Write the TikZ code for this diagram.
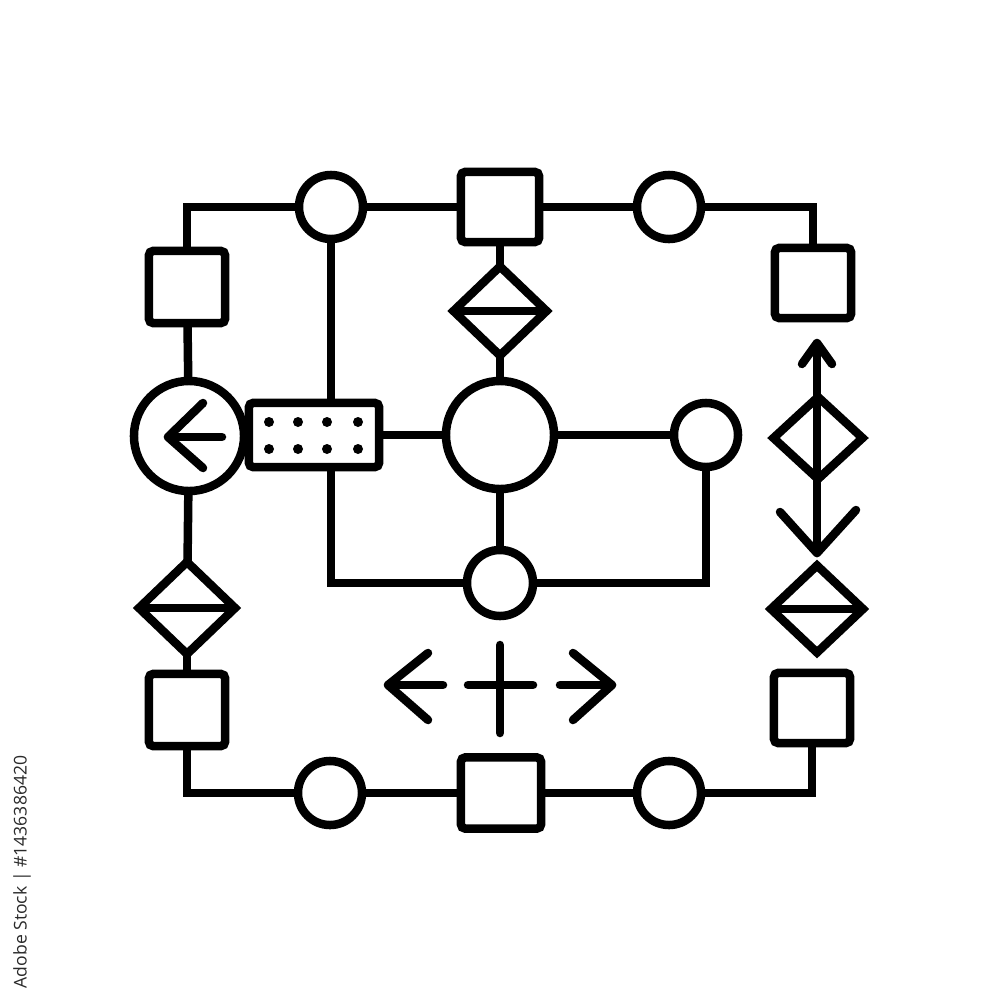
\documentclass[tikz,border=0pt]{standalone}
\usepackage{fontspec}
\usepackage{xcolor}
\usepackage{tikz}
\usetikzlibrary{shapes.geometric,backgrounds}
\newfontfamily\stampfont{Open Sans}
\definecolor{stampgray}{HTML}{2A2A2A}

\tikzset{
	box/.style={draw, line width=0.85mm, fill=white, minimum width=7.6mm, minimum height=7mm, inner sep=0, outer sep=0, rounded corners=0.4mm},
	node dot/.style={draw, circle, line width=0.85mm, fill=white, minimum size=6.4mm, inner sep=0, outer sep=0},
	gate/.style={draw, diamond, line width=0.85mm, fill=white, aspect=1, inner sep=0, outer sep=0, minimum width=9.2mm, minimum height=9mm},
	wire/.style={line width=0.85mm},
	glyph/.style={line width=0.85mm, line cap=round, line join=round}
}

\begin{document}
\begin{tikzpicture}[x=0.01cm, y=-0.01cm]
	% top row
	\node[node dot] (tc1) at (331,207) {};
	\node[box, minimum width=7.8mm] (tsq) at (500,207) {};
	\node[node dot] (tc2) at (669,207) {};
	\node[box] (rtsq) at (813,283) {};
	\node[box, minimum height=7.2mm] (ltsq) at (187,287) {};
	\node[gate, minimum width=9.3mm, minimum height=8.9mm] (tgate) at (500,311) {};
	\draw[wire] (tgate.west) -- (tgate.east);
	% middle
	\node[draw, circle, line width=0.85mm, fill=white, minimum size=11mm, inner sep=0, outer sep=0] (lc) at (189,436) {};
	\node[box, minimum width=13mm, minimum height=6.4mm] (panel) at (314,435) {};
	\node[draw, circle, line width=0.85mm, fill=white, minimum size=10.8mm, inner sep=0, outer sep=0] (hub) at (500,435) {};
	\node[node dot] (rc) at (706,435) {};
	\node[node dot, minimum size=6.6mm] (bmc) at (500,583) {};
	\foreach \x in {269,298,327,358}
		\foreach \y in {422,449}
			\fill (\x,\y) circle (0.5mm);
	\draw[glyph] (203,403) -- (168,437) -- (203,468);
	\draw[glyph] (168,437) -- (222,437);
	% left column
	\node[gate, minimum width=9.6mm, minimum height=9.2mm] (lgate) at (187,608) {};
	\draw[wire] (lgate.west) -- (lgate.east);
	\node[box, minimum height=7.2mm] (lbsq) at (187,710) {};
	% right column
	\node[gate, minimum width=8.9mm, minimum height=8.2mm] (ugate) at (818,438) {};
	\node[gate, minimum width=9.2mm, minimum height=8.7mm] (dgate) at (817,609) {};
	\draw[wire] (dgate.west) -- (dgate.east);
	\node[box] (rbsq) at (812,708) {};
	\coordinate (uptip) at (817,343);
	\coordinate (vtip) at (817,553);
	\draw[glyph] (uptip) -- (vtip);
	\draw[glyph] (802,364) -- (uptip) -- (832,364);
	\draw[glyph] (780,512) -- (vtip) -- (856,510);
	% bottom row
	\node[node dot] (bc1) at (330,793) {};
	\node[box, minimum width=8mm, minimum height=7.1mm] (bsq) at (501,793) {};
	\node[node dot] (bc2) at (669,793) {};
	% arrows and cross
	\draw[glyph] (428,653) -- (388,685) -- (428,720);
	\draw[glyph] (388,685) -- (443,685);
	\draw[glyph] (468,685) -- (533,685);
	\draw[glyph] (500,645) -- (500,733);
	\draw[glyph] (573,653) -- (612,685) -- (573,720);
	\draw[glyph] (560,685) -- (612,685);
	% stamp
	\node[rotate=90, text=stampgray, font=\stampfont\fontsize{5pt}{6pt}\selectfont, inner sep=0] (stamp) at (22,872) {Adobe Stock | \#1436386420};
	% connectors
	\begin{scope}[on background layer]
		\fill[white] (0,0) rectangle (1000,1000);
		\draw[wire] (ltsq) |- (tc1);
		\draw[wire] (tc1) -- (tsq);
		\draw[wire] (tsq) -- (tc2);
		\draw[wire] (tc2) -| (rtsq);
		\draw[wire] (tsq) -- (tgate);
		\draw[wire] (tgate) -- (hub);
		\draw[wire] (ltsq) -- (lc);
		\draw[wire] (lc) -- (lgate);
		\draw[wire] (lgate) -- (lbsq);
		\draw[wire] (lbsq) |- (bc1);
		\draw[wire] (bc1) -- (bsq);
		\draw[wire] (bsq) -- (bc2);
		\draw[wire] (bc2) -| (rbsq);
		\draw[wire] (tc1) |- (bmc);
		\draw[wire] (panel) -- (hub);
		\draw[wire] (hub) -- (rc);
		\draw[wire] (hub) -- (bmc);
		\draw[wire] (rc) |- (bmc);
	\end{scope}
\end{tikzpicture}
\end{document}
